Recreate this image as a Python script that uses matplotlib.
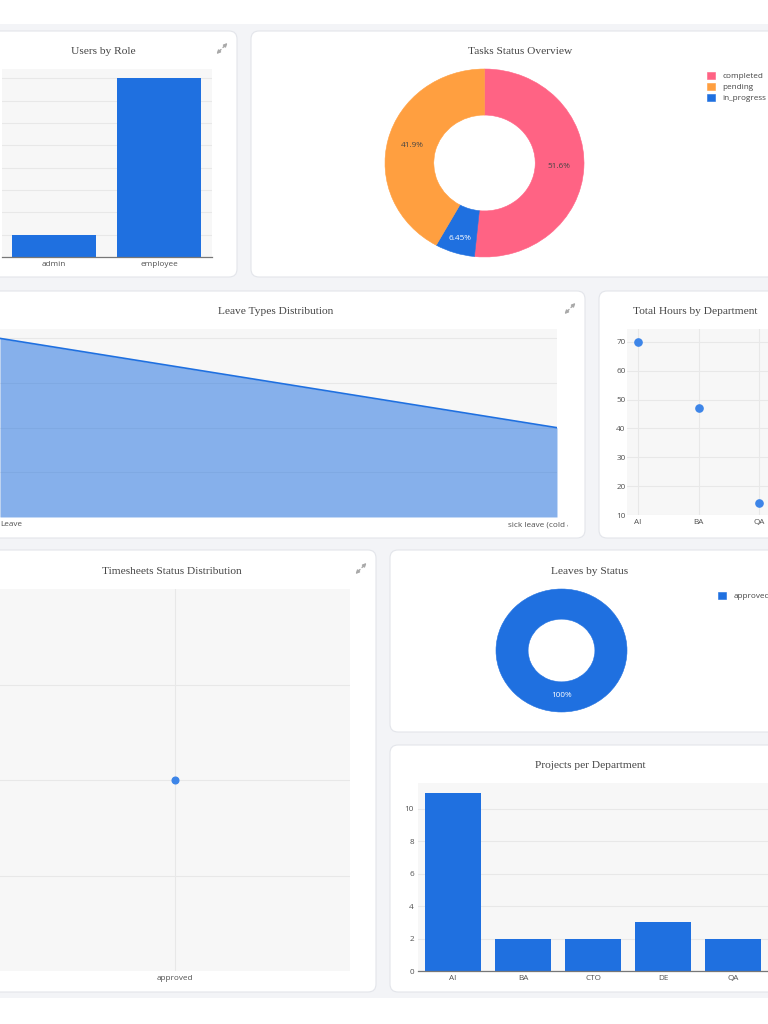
import matplotlib
matplotlib.use('Agg')
import matplotlib.pyplot as plt
from matplotlib.patches import FancyBboxPatch, Rectangle
from matplotlib.transforms import Bbox, TransformedBbox
import numpy as np

# ---------------- data ----------------
role_labels = ['admin', 'employee']
role_counts = [1, 8]

# slice order as drawn (clockwise from 12 o'clock)
task_status = ['completed', 'in_progress', 'pending']
task_counts = [16, 2, 13]
task_legend_order = ['completed', 'pending', 'in_progress']

leave_types = ['Leave', 'sick leave (cold and fever)']
leave_type_counts = [4, 2]

hours_depts = ['AI', 'BA', 'QA']
hours_totals = [70, 47, 14]

timesheet_status = ['approved']
timesheet_counts = [1]

leave_status = ['approved']
leave_status_counts = [6]

project_depts = ['AI', 'BA', 'CTO', 'DE', 'QA']
project_counts = [11, 2, 2, 3, 2]

# ---------------- style ----------------
W, H = 768, 1024
PAGE = '#f3f4f7'
CARD_EDGE = '#e3e5ea'
PLOT_BG = '#f7f7f7'
GRID = '#e8e8e8'
BLUE = '#1f70e0'
PINK = '#ff6384'
ORANGE = '#ff9f40'
MARK = '#3d85e8'
TICKC = '#505050'
TFS = 5.9
task_colors = {'completed': PINK, 'pending': ORANGE, 'in_progress': BLUE}

plt.rcParams['font.family'] = ['Open Sans', 'DejaVu Sans']

fig = plt.figure(figsize=(W / 100, H / 100), dpi=100)
fig.patch.set_facecolor('white')

bg = fig.add_axes([0, 0, 1, 1], zorder=-10)
bg.set_xlim(0, W)
bg.set_ylim(H, 0)
bg.axis('off')
bg.add_patch(Rectangle((0, 24), W, 974, facecolor=PAGE, edgecolor='none'))

cards = [(-20, 31, 237, 277), (251, 31, 800, 277),
         (-20, 291, 585, 538), (599, 291, 800, 538),
         (-20, 550, 376, 992), (390, 550, 800, 732),
         (390, 745, 800, 992)]
for x0, y0, x1, y1 in cards:
    bg.add_patch(FancyBboxPatch((x0, y0), x1 - x0, y1 - y0,
                                boxstyle='round,pad=0,rounding_size=8',
                                facecolor='white', edgecolor=CARD_EDGE, lw=0.8))

titles = [("Users by Role", 103, 52), ("Tasks Status Overview", 520, 51),
          ("Leave Types Distribution", 276, 311), ("Total Hours by Department", 695, 311),
          ("Timesheets Status Distribution", 172, 571), ("Leaves by Status", 590, 571),
          ("Projects per Department", 590, 765)]
for t, cx, cy in titles:
    bg.text(cx, cy, t, ha='center', va='center', family='Liberation Serif',
            fontsize=8.2, color='#444444')


def icon(cx, cy):
    for dx in (1, -1):
        bg.annotate('', xy=(cx + 5.5 * dx, cy - 5.5 * dx), xytext=(cx + 1 * dx, cy - 1 * dx),
                    arrowprops=dict(arrowstyle='-|>', color='#a9a9a9', lw=1.0,
                                    mutation_scale=5, shrinkA=0, shrinkB=0))


icon(222, 48.5)
icon(570, 308.5)
icon(361, 568.5)


def pax(x0, y0, x1, y1):
    return fig.add_axes([x0 / W, 1 - y1 / H, (x1 - x0) / W, (y1 - y0) / H])


def style(ax):
    ax.set_facecolor(PLOT_BG)
    for s in ax.spines.values():
        s.set_visible(False)
    ax.tick_params(length=0, labelsize=TFS, labelcolor=TICKC, pad=3)
    ax.grid(True, color=GRID, lw=0.8)
    ax.set_axisbelow(True)


def baseline(ax):
    ax.spines['bottom'].set_visible(True)
    ax.spines['bottom'].set_color('#777777')
    ax.spines['bottom'].set_linewidth(0.9)


# ---- Users by Role ----
ax1 = pax(1.5, 69, 212, 257)
style(ax1)
x = np.arange(len(role_labels))
ax1.bar(x, role_counts, width=0.8, color=BLUE)
ax1.set_xlim(-0.5, len(role_labels) - 0.5)
ax1.set_ylim(0, 8.42)
ax1.set_xticks(x, role_labels)
ax1.set_yticks(range(0, 9))
ax1.tick_params(axis='y', labelleft=False)
ax1.xaxis.grid(False)
baseline(ax1)

# ---- Tasks Status Overview ----
ax2 = pax(385, 69, 584, 257)
wedges, texts, autotexts = ax2.pie(
    task_counts, colors=[task_colors[s] for s in task_status], startangle=90,
    counterclock=False, radius=1, wedgeprops=dict(width=0.49, linewidth=0),
    autopct=lambda p: f"{p:.3g}%", pctdistance=0.75,
    textprops=dict(fontsize=TFS, color='#444444'))
for w, a, s in zip(wedges, autotexts, task_status):
    w.set_edgecolor(task_colors[s])
    w.set_linewidth(0.4)
    if task_colors[s] == BLUE:
        a.set_color('white')
        # small slice: label pushed slightly outward, as in the reference
        mid = np.deg2rad((w.theta1 + w.theta2) / 2)
        a.set_position((0.84 * np.cos(mid), 0.84 * np.sin(mid)))
ax2.set_aspect('auto')
ax2.set_xlim(-1, 1)
ax2.set_ylim(-1, 1)
handles = [wedges[task_status.index(s)] for s in task_legend_order]
fig.legend(handles, task_legend_order, loc='upper left',
           bbox_to_anchor=(707 / W, 1 - 72 / H), bbox_transform=fig.transFigure,
           frameon=False, fontsize=TFS, handlelength=0.95, handleheight=0.95,
           handletextpad=0.9, labelspacing=0.33, borderpad=0, borderaxespad=0,
           labelcolor='#444444')

# ---- Leave Types Distribution ----
ax3 = pax(0, 329, 557, 517)
style(ax3)
x = np.arange(len(leave_types))
ax3.fill_between(x, leave_type_counts, color=BLUE, alpha=0.52, lw=0)
ax3.plot(x, leave_type_counts, color=BLUE, lw=1.2)
ax3.set_xlim(0, len(leave_types) - 1)
ax3.set_ylim(0, 4.21)
ax3.set_yticks(range(0, 5))
ax3.tick_params(axis='y', labelleft=False)
ax3.set_xticks(x, leave_types)
ax3.xaxis.grid(False)
labs = ax3.get_xticklabels()
labs[0].set_horizontalalignment('left')
clip = TransformedBbox(Bbox([[0, 0], [568 / W, 1]]), fig.transFigure)
labs[1].set_clip_box(clip)
labs[1].set_clip_on(True)

# ---- Total Hours by Department ----
ax4 = pax(627, 329, 770, 515)
style(ax4)
x = np.arange(len(hours_depts))
ax4.plot(x, hours_totals, 'o', ms=5.2, color=MARK)
ax4.set_xlim(-0.18, len(hours_depts) - 1 + 0.18)
ax4.set_ylim(10, 74.5)
ax4.set_yticks(range(10, 71, 10))
ax4.set_xticks(x, hours_depts)
ax4.tick_params(axis='y', pad=1)

# ---- Timesheets Status Distribution ----
ax5 = pax(0, 589, 350, 971)
style(ax5)
x = np.arange(len(timesheet_status))
ax5.plot(x, timesheet_counts, 'o', ms=4.8, color=MARK)
ax5.set_xlim(-1, 1)
ax5.set_ylim(0, 2)
ax5.set_yticks([0.5, 1, 1.5])
ax5.tick_params(axis='y', labelleft=False)
ax5.set_xticks(x, timesheet_status)

# ---- Leaves by Status ----
ax6 = pax(496, 589, 627, 712)
w6, t6, a6 = ax6.pie(
    leave_status_counts, colors=[BLUE], startangle=90, counterclock=False,
    radius=1, wedgeprops=dict(width=0.49, linewidth=0.4, edgecolor=BLUE),
    autopct=lambda p: f"{p:.3g}%", pctdistance=0.73,
    textprops=dict(fontsize=TFS, color='white'))
ax6.set_aspect('auto')
ax6.set_xlim(-1, 1)
ax6.set_ylim(-1, 1)
fig.legend(w6, leave_status, loc='upper left',
           bbox_to_anchor=(718 / W, 1 - 592 / H), bbox_transform=fig.transFigure,
           frameon=False, fontsize=TFS, handlelength=0.95, handleheight=0.95,
           handletextpad=0.9, borderpad=0, borderaxespad=0, labelcolor='#444444')

# ---- Projects per Department ----
ax7 = pax(418, 783, 768, 971)
style(ax7)
x = np.arange(len(project_depts))
ax7.bar(x, project_counts, width=0.8, color=BLUE)
ax7.set_xlim(-0.5, len(project_depts) - 0.5)
ax7.set_ylim(0, 11.6)
ax7.set_yticks(range(0, 11, 2))
ax7.set_xticks(x, project_depts)
ax7.xaxis.grid(False)
baseline(ax7)

fig.savefig('out.png', dpi=100, facecolor='white')
